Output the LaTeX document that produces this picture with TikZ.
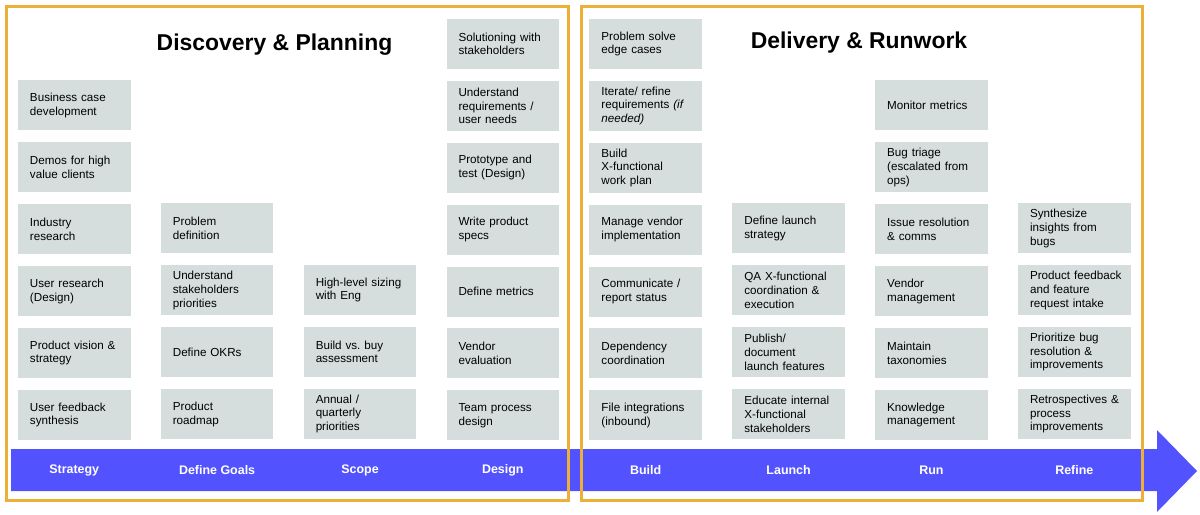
\documentclass[tikz,border=0pt]{standalone}
\usepackage{fontspec}
\setmainfont{Liberation Sans}
\usepackage{tikz}
\usetikzlibrary{positioning}
\definecolor{framegold}{RGB}{236,175,55}
\definecolor{taskgray}{RGB}{213,222,221}
\definecolor{phaseblue}{RGB}{82,82,255}
\tikzstyle{task} = [rectangle, fill=taskgray, minimum width=112.5bp, minimum height=50bp, text width=112.5bp, inner xsep=0bp, inner ysep=2bp, align=left, execute at begin node={\leftskip=12bp\hyphenpenalty=10000\relax}, font=\fontsize{11.7}{13.7}\selectfont]
\tikzstyle{phase} = [text=white, font=\fontsize{12.5}{15}\selectfont\bfseries]
\tikzstyle{stage} = [font=\fontsize{23}{28}\selectfont\bfseries]
\tikzstyle{frame} = [draw=framegold, line width=3bp]

\begin{document}
\begin{tikzpicture}[x=1bp, y=-1bp, node distance=11.5bp]
    \useasboundingbox (0,0) rectangle (1200,515);

    % Barra de fases
    \fill[phaseblue] (11,449) -- (1157,449) -- (1157,430) -- (1197,471) -- (1157,512) -- (1157,491) -- (11,491) -- cycle;

    % Marcos
    \draw[frame] (6,7) rectangle (568,500);
    \draw[frame] (581,7) rectangle (1142,500);

    % Titulos
    \node (disc) [stage] at (274.5,45) {Discovery \& Planning};
    \node (deliv) [stage] at (859,43) {Delivery \& Runwork};

    % Strategy
    \node (bizcase) [task] at (74.25,105.5) {Business case\\development};
    \node (demos) [task, below=of bizcase] {Demos for high\\value clients};
    \node (indres) [task, below=of demos] {Industry\\research};
    \node (usrres) [task, below=of indres] {User research\\(Design)};
    \node (vision) [task, below=of usrres] {Product vision \&\\strategy};
    \node (usrfb) [task, below=of vision] {User feedback\\synthesis};

    % Define Goals
    \node (probdef) [task] at (217.1,228.5) {Problem\\definition};
    \node (stakepri) [task, below=of probdef] {Understand\\stakeholders\\priorities};
    \node (okrs) [task, below=of stakepri] {Define OKRs};
    \node (roadmap) [task, below=of okrs] {Product\\roadmap};

    % Scope
    \node (sizing) [task] at (360,290) {High-level sizing\\with Eng};
    \node (buybuild) [task, below=of sizing] {Build vs.\ buy\\assessment};
    \node (annual) [task, below=of buybuild] {Annual /\\quarterly\\priorities};

    % Design
    \node (solut) [task] at (502.8,44) {Solutioning with\\stakeholders};
    \node (reqs) [task, below=of solut] {Understand\\requirements /\\user needs};
    \node (proto) [task, below=of reqs] {Prototype and\\test (Design)};
    \node (specs) [task, below=of proto] {Write product\\specs};
    \node (defmet) [task, below=of specs] {Define metrics};
    \node (vendev) [task, below=of defmet] {Vendor\\evaluation};
    \node (teamproc) [task, below=of vendev] {Team process\\design};

    % Build
    \node (edge) [task] at (645.7,44) {Problem solve\\edge cases};
    \node (iter) [task, below=of edge] {Iterate/ refine\\requirements \textit{(if}\\\textit{needed)}};
    \node (workplan) [task, below=of iter] {Build\\X-functional\\work plan};
    \node (vendimp) [task, below=of workplan] {Manage vendor\\implementation};
    \node (status) [task, below=of vendimp] {Communicate /\\report status};
    \node (depcoord) [task, below=of status] {Dependency\\coordination};
    \node (fileint) [task, below=of depcoord] {File integrations\\(inbound)};

    % Launch
    \node (launchstr) [task] at (788.6,228.5) {Define launch\\strategy};
    \node (qa) [task, below=of launchstr] {QA X-functional\\coordination \&\\execution};
    \node (publish) [task, below=of qa] {Publish/\\document\\launch features};
    \node (educate) [task, below=of publish] {Educate internal\\X-functional\\stakeholders};

    % Run
    \node (monitor) [task] at (931.4,105.5) {Monitor metrics};
    \node (triage) [task, below=of monitor] {Bug triage\\(escalated from\\ops)};
    \node (issue) [task, below=of triage] {Issue resolution\\\& comms};
    \node (vendmgmt) [task, below=of issue] {Vendor\\management};
    \node (taxo) [task, below=of vendmgmt] {Maintain\\taxonomies};
    \node (knowl) [task, below=of taxo] {Knowledge\\management};

    % Refine
    \node (synth) [task] at (1074.3,228.5) {Synthesize\\insights from\\bugs};
    \node (intake) [task, below=of synth] {Product feedback\\and feature\\request intake};
    \node (prio) [task, below=of intake] {Prioritize bug\\resolution \&\\improvements};
    \node (retro) [task, below=of prio] {Retrospectives \&\\process\\improvements};

    % Etiquetas de fase
    \node (strategy) [phase] at (74.25,470) {Strategy};
    \node (goals) [phase] at (217.1,470) {Define Goals};
    \node (scope) [phase] at (360,470) {Scope};
    \node (design) [phase] at (502.8,470) {Design};
    \node (build) [phase] at (645.7,470) {Build};
    \node (launch) [phase] at (788.6,470) {Launch};
    \node (run) [phase] at (931.4,470) {Run};
    \node (refine) [phase] at (1074.3,470) {Refine};
\end{tikzpicture}
\end{document}
